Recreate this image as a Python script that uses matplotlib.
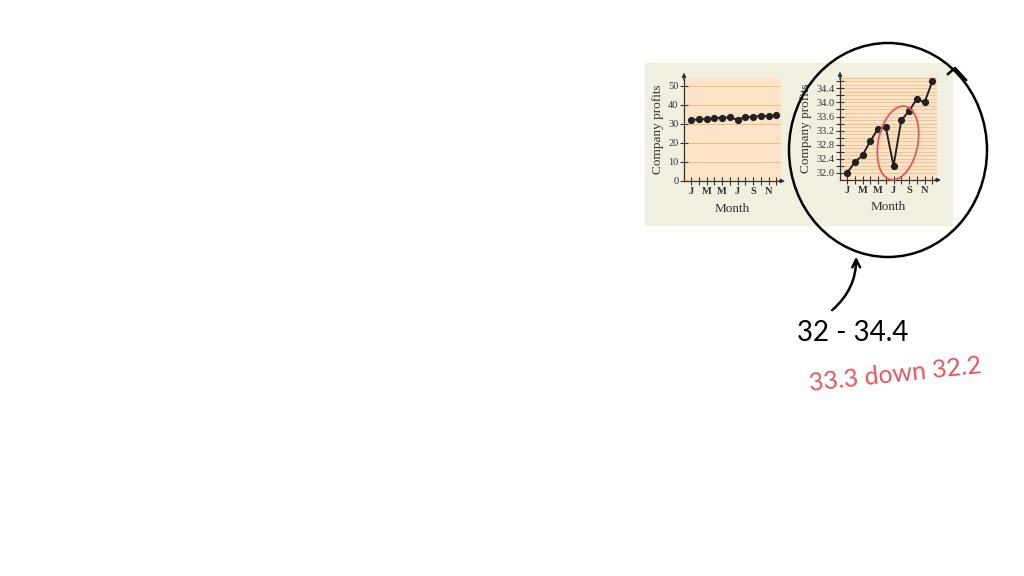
import matplotlib
matplotlib.use("Agg")
import matplotlib.pyplot as plt
from matplotlib.patches import Rectangle, Ellipse, FancyArrowPatch
from matplotlib.lines import Line2D

# Data
months = list(range(1, 13))
profits = [32.0, 32.3, 32.5, 32.9, 33.25, 33.3, 32.2, 33.5, 33.75, 34.1, 34.0, 34.6]
month_ticks = [1, 3, 5, 7, 9, 11]
month_labels = ['J', 'M', 'M', 'J', 'S', 'N']
left_yticks = [0, 10, 20, 30, 40, 50]
right_yticks = [32.0, 32.4, 32.8, 33.2, 33.6, 34.0, 34.4]

panel_bg = '#f1efe0'
plot_bg = '#fde4c6'
grid_col = '#eabd94'
serif = 'Liberation Serif'

fig = plt.figure(figsize=(10.24, 5.76), dpi=100)
fig.patch.set_facecolor('white')

# beige panel behind both small charts
fig.patches.append(Rectangle((645 / 1024, 1 - 226 / 576), 308 / 1024, 163 / 576,
                             transform=fig.transFigure, facecolor=panel_bg,
                             edgecolor='none', zorder=-5))


def style_axes(ax):
    ax.set_facecolor(plot_bg)
    for s in ['top', 'right']:
        ax.spines[s].set_visible(False)
    for s in ['left', 'bottom']:
        ax.spines[s].set_color('#333333')
        ax.spines[s].set_linewidth(0.9)
    ax.set_xticks(months, minor=True)
    ax.set_xticks(month_ticks)
    ax.set_xticklabels(month_labels, fontfamily=serif, fontsize=7.5, fontweight='bold',
                       color='#333333')
    ax.tick_params(axis='both', which='both', direction='inout', length=6, width=0.8,
                   color='#333333', pad=1)
    ax.tick_params(axis='y', labelsize=7.5, labelcolor='#333333')
    for lab in ax.get_yticklabels():
        lab.set_fontfamily(serif)
    ax.set_xlabel('Month', fontfamily=serif, fontsize=9.5, color='#333333', labelpad=5)
    ax.set_ylabel('Company profits', fontfamily=serif, fontsize=9.5, color='#333333',
                  labelpad=3)
    # axis arrows
    ax.annotate('', xy=(0, 1.08), xytext=(0, 0.95), xycoords='axes fraction',
                arrowprops=dict(arrowstyle='-|>', color='#333333', lw=0.9,
                                mutation_scale=6))
    ax.annotate('', xy=(1.07, 0), xytext=(0.95, 0), xycoords='axes fraction',
                arrowprops=dict(arrowstyle='-|>', color='#333333', lw=0.9,
                                mutation_scale=6))


# left chart: full scale
ax1 = fig.add_axes([684 / 1024, 1 - 181 / 576, 97 / 1024, 103 / 576])
ax1.set_xlim(0.1, 12.6)
ax1.set_ylim(0, 54)
ax1.set_yticks(left_yticks)
for v in left_yticks[1:]:
    ax1.axhline(v, color=grid_col, lw=0.7, zorder=1)
ax1.plot(months, profits, color='#222222', lw=1.4, marker='o', markersize=4.2, zorder=3)
style_axes(ax1)

# right chart: zoomed scale
ax2 = fig.add_axes([840 / 1024, 1 - 180 / 576, 97 / 1024, 103 / 576])
ax2.set_xlim(0.1, 12.6)
ax2.set_ylim(31.8, 34.72)
ax2.set_yticks(right_yticks)
ax2.set_yticklabels([f'{v:.1f}' for v in right_yticks])
ax2.set_yticks([32.2 + 0.4 * i for i in range(7)], minor=True)
for i in range(28):
    ax2.axhline(32.0 + 0.1 * i, color=grid_col, lw=0.6, zorder=1)
ax2.plot(months, profits, color='#222222', lw=1.4, marker='o', markersize=4.2, zorder=3)
style_axes(ax2)

# hand-drawn style annotations
fig.patches.append(Ellipse((888 / 1024, 1 - 150 / 576), 198 / 1024, 214 / 576,
                           transform=fig.transFigure, fill=False, edgecolor='black',
                           lw=1.8, zorder=5))
fig.lines.append(Line2D([948 / 1024, 955 / 1024, 966 / 1024],
                        [1 - 74 / 576, 1 - 68 / 576, 1 - 80 / 576],
                        transform=fig.transFigure, color='black', lw=1.8, zorder=5))
fig.patches.append(Ellipse((898 / 1024, 1 - 143 / 576), 40 / 1024, 74 / 576, angle=-5,
                           transform=fig.transFigure, fill=False, edgecolor='#e5555e',
                           lw=1.3, zorder=5))
fig.patches.append(FancyArrowPatch((830 / 1024, 1 - 312 / 576), (856 / 1024, 1 - 254 / 576),
                                   transform=fig.transFigure, connectionstyle='arc3,rad=0.25',
                                   arrowstyle='->', mutation_scale=14, color='black',
                                   lw=1.8, zorder=5))
fig.text(797 / 1024, 1 - 333 / 576, '32 - 34.4', fontsize=20, fontfamily='Lato',
         color='black', va='center', ha='left')
fig.text(808 / 1024, 1 - 374 / 576, '33.3 down 32.2', fontsize=18, fontfamily='Lato',
         color='#e5555e', va='center', ha='left', rotation=6)

fig.savefig('out.png', dpi=100)
